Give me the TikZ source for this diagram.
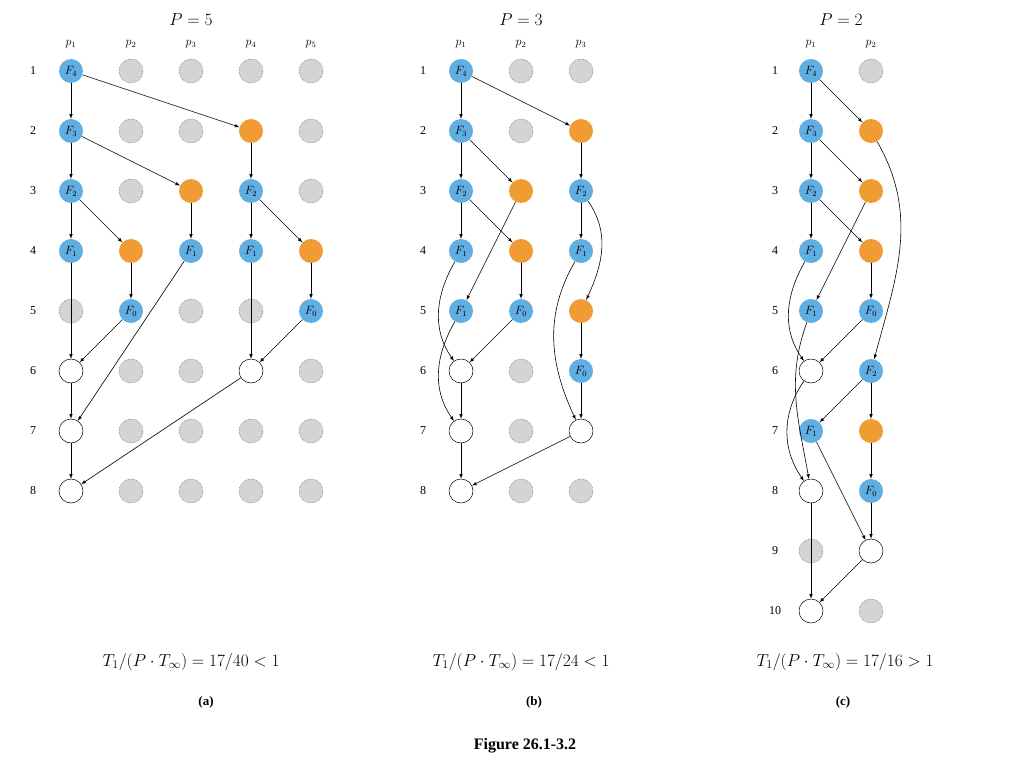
\documentclass[tikz,border=0pt]{standalone}
\usepackage{fontspec}
\setmainfont{Liberation Serif}
\begin{document}
\begin{tikzpicture}[x=1pt,y=-1pt,
 base/.style={circle,minimum size=24pt,inner sep=0pt,font=\fontsize{12}{12}\selectfont},
 B/.style={base,fill={rgb,255:red,96;green,174;blue,226}},
 O/.style={base,fill={rgb,255:red,240;green,156;blue,52}},
 G/.style={base,fill={rgb,255:red,212;green,212;blue,212},draw={rgb,255:red,120;green,120;blue,120},densely dotted,line width=0.6pt},
 W/.style={base,fill=white,draw=black,line width=0.5pt},
 e/.style={-latex,line width=0.6pt},
 rl/.style={font=\fontsize{12}{12}\selectfont},
 pl/.style={font=\fontsize{12}{12}\selectfont},
 tl/.style={font=\fontsize{18}{18}\selectfont},
 ]
\useasboundingbox (0,0) rectangle (1024,768);
% helper
\def\cellA{}
% ---------- panel (a)
\node[tl] (ta) at (191,20) {$P=5$};
\foreach \i/\x in {1/71,2/131,3/191,4/251,5/311}{\node[pl] (pa\i) at (\x,44) {$p_{\i}$};}
\foreach \r in {1,...,8}{\node[rl] (ra\r) at (33,11+60*\r) {\r};}
\newcommand{\cell}[5]{\node[#1] (#2) at (#3,11+60*#4) {#5};}
% row1
\cell{B}{a11}{71}{1}{$F_4$}\cell{G}{a21}{131}{1}{}\cell{G}{a31}{191}{1}{}\cell{G}{a41}{251}{1}{}\cell{G}{a51}{311}{1}{}
\cell{B}{a12}{71}{2}{$F_3$}\cell{G}{a22}{131}{2}{}\cell{G}{a32}{191}{2}{}\cell{O}{a42}{251}{2}{}\cell{G}{a52}{311}{2}{}
\cell{B}{a13}{71}{3}{$F_2$}\cell{G}{a23}{131}{3}{}\cell{O}{a33}{191}{3}{}\cell{B}{a43}{251}{3}{$F_2$}\cell{G}{a53}{311}{3}{}
\cell{B}{a14}{71}{4}{$F_1$}\cell{O}{a24}{131}{4}{}\cell{B}{a34}{191}{4}{$F_1$}\cell{B}{a44}{251}{4}{$F_1$}\cell{O}{a54}{311}{4}{}
\cell{G}{a15}{71}{5}{}\cell{B}{a25}{131}{5}{$F_0$}\cell{G}{a35}{191}{5}{}\cell{G}{a45}{251}{5}{}\cell{B}{a55}{311}{5}{$F_0$}
\cell{W}{a16}{71}{6}{}\cell{G}{a26}{131}{6}{}\cell{G}{a36}{191}{6}{}\cell{W}{a46}{251}{6}{}\cell{G}{a56}{311}{6}{}
\cell{W}{a17}{71}{7}{}\cell{G}{a27}{131}{7}{}\cell{G}{a37}{191}{7}{}\cell{G}{a47}{251}{7}{}\cell{G}{a57}{311}{7}{}
\cell{W}{a18}{71}{8}{}\cell{G}{a28}{131}{8}{}\cell{G}{a38}{191}{8}{}\cell{G}{a48}{251}{8}{}\cell{G}{a58}{311}{8}{}
\foreach \s/\t in {a11/a12,a11/a42,a12/a13,a12/a33,a42/a43,a13/a14,a13/a24,a33/a34,a43/a44,a43/a54,a24/a25,a54/a55,a14/a16,a25/a16,a16/a17,a34/a17,a44/a46,a55/a46,a17/a18,a46/a18}{\draw[e] (\s) -- (\t);}
\node[tl] (fa) at (191,662) {$T_1/(P\cdot T_\infty)=17/40<1$};
\node[font=\bfseries\fontsize{13}{13}\selectfont] (la) at (206,702) {(a)};
% ---------- panel (b)
\node[tl] (tb) at (521,20) {$P=3$};
\foreach \i/\x in {1/461,2/521,3/581}{\node[pl] (pb\i) at (\x,44) {$p_{\i}$};}
\foreach \r in {1,...,8}{\node[rl] (rb\r) at (423,11+60*\r) {\r};}
\cell{B}{b11}{461}{1}{$F_4$}\cell{G}{b21}{521}{1}{}\cell{G}{b31}{581}{1}{}
\cell{B}{b12}{461}{2}{$F_3$}\cell{G}{b22}{521}{2}{}\cell{O}{b32}{581}{2}{}
\cell{B}{b13}{461}{3}{$F_2$}\cell{O}{b23}{521}{3}{}\cell{B}{b33}{581}{3}{$F_2$}
\cell{B}{b14}{461}{4}{$F_1$}\cell{O}{b24}{521}{4}{}\cell{B}{b34}{581}{4}{$F_1$}
\cell{B}{b15}{461}{5}{$F_1$}\cell{B}{b25}{521}{5}{$F_0$}\cell{O}{b35}{581}{5}{}
\cell{W}{b16}{461}{6}{}\cell{G}{b26}{521}{6}{}\cell{B}{b36}{581}{6}{$F_0$}
\cell{W}{b17}{461}{7}{}\cell{G}{b27}{521}{7}{}\cell{W}{b37}{581}{7}{}
\cell{W}{b18}{461}{8}{}\cell{G}{b28}{521}{8}{}\cell{G}{b38}{581}{8}{}
\foreach \s/\t in {b11/b12,b11/b32,b12/b13,b12/b23,b32/b33,b13/b14,b13/b24,b23/b15,b33/b34,b24/b25,b25/b16,b35/b36,b36/b37,b16/b17,b17/b18,b37/b18}{\draw[e] (\s) -- (\t);}
\draw[e] (b33) to[out=-55,in=65] (b35);
\draw[e] (b14) to[out=240,in=125] (b16);
\draw[e] (b15) to[out=240,in=125] (b17);
\draw[e] (b34) to[out=240,in=115] (b37);
\node[tl] (fb) at (521,662) {$T_1/(P\cdot T_\infty)=17/24<1$};
\node[font=\bfseries\fontsize{13}{13}\selectfont] (lb) at (534,702) {(b)};
% ---------- panel (c)
\node[tl] (tc) at (841,20) {$P=2$};
\foreach \i/\x in {1/811,2/871}{\node[pl] (pc\i) at (\x,44) {$p_{\i}$};}
\foreach \r in {1,...,10}{\node[rl] (rc\r) at (775,11+60*\r) {\r};}
\cell{B}{c11}{811}{1}{$F_4$}\cell{G}{c21}{871}{1}{}
\cell{B}{c12}{811}{2}{$F_3$}\cell{O}{c22}{871}{2}{}
\cell{B}{c13}{811}{3}{$F_2$}\cell{O}{c23}{871}{3}{}
\cell{B}{c14}{811}{4}{$F_1$}\cell{O}{c24}{871}{4}{}
\cell{B}{c15}{811}{5}{$F_1$}\cell{B}{c25}{871}{5}{$F_0$}
\cell{W}{c16}{811}{6}{}\cell{B}{c26}{871}{6}{$F_2$}
\cell{B}{c17}{811}{7}{$F_1$}\cell{O}{c27}{871}{7}{}
\cell{W}{c18}{811}{8}{}\cell{B}{c28}{871}{8}{$F_0$}
\cell{G}{c19}{811}{9}{}\cell{W}{c29}{871}{9}{}
\cell{W}{c110}{811}{10}{}\cell{G}{c210}{871}{10}{}
\foreach \s/\t in {c11/c12,c11/c22,c12/c13,c12/c23,c13/c14,c13/c24,c23/c15,c24/c25,c25/c16,c26/c17,c26/c27,c27/c28,c17/c29,c28/c29,c18/c110,c29/c110}{\draw[e] (\s) -- (\t);}
\draw[e] (c22) to[out=-60,in=75] (c26);
\draw[e] (c14) to[out=240,in=125] (c16);
\draw[e] (c15) to[out=250,in=100] (c18);
\draw[e] (c16) to[out=235,in=125] (c18);
\node[tl] (fc) at (845,662) {$T_1/(P\cdot T_\infty)=17/16>1$};
\node[font=\bfseries\fontsize{13}{13}\selectfont] (lc) at (843,702) {(c)};
\node[font=\bfseries\fontsize{16}{16}\selectfont] (cap) at (525,746) {Figure 26.1-3.2};
\end{tikzpicture}
\end{document}
